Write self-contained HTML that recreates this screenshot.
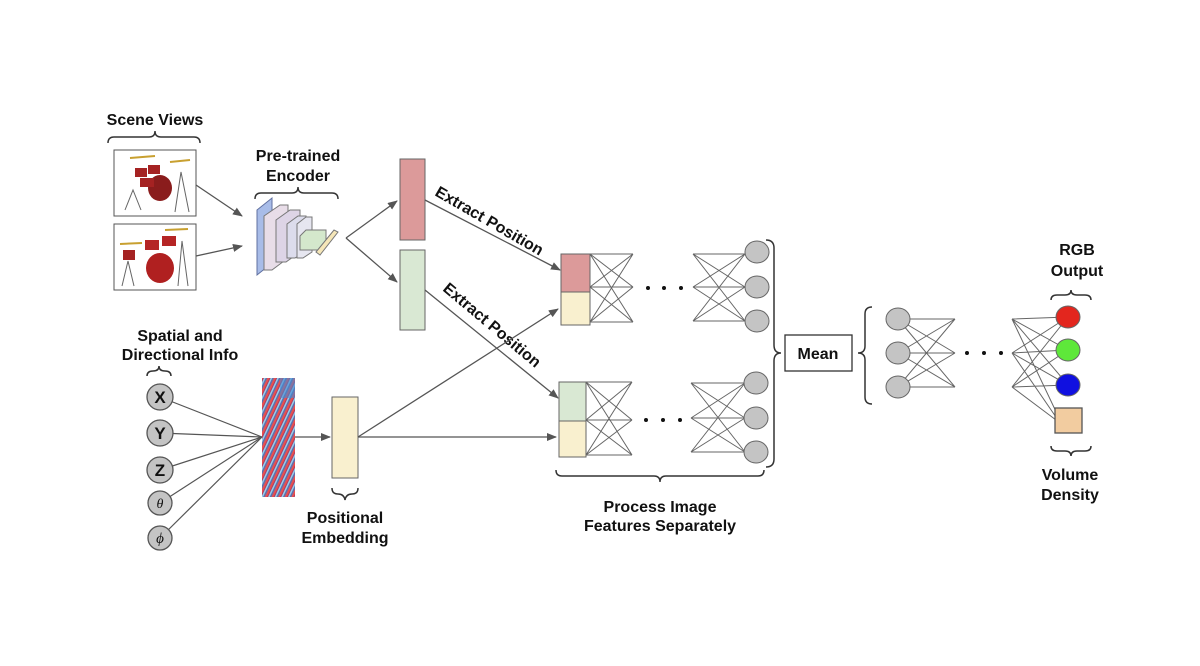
<!DOCTYPE html>
<html><head><meta charset="utf-8"><style>
html,body{margin:0;padding:0;background:#fff;}
svg{display:block}
text{font-family:"Liberation Sans",sans-serif;font-weight:bold;fill:#111;}
</style></head><body>
<svg width="1200" height="666" viewBox="0 0 1200 666" xmlns="http://www.w3.org/2000/svg">
<defs>
<marker id="a" markerWidth="10" markerHeight="8" refX="9" refY="4" orient="auto" markerUnits="userSpaceOnUse"><path d="M0,0 L10,4 L0,8 z" fill="#555"/></marker>
<linearGradient id="sp" x1="0" x2="1" y1="0" y2="0">
<stop offset="0" stop-color="#6a2a5a"/><stop offset="0.5" stop-color="#c04060"/><stop offset="1" stop-color="#3a80c8"/>
</linearGradient>
<pattern id="st" width="6" height="14" patternUnits="userSpaceOnUse" patternTransform="rotate(25)">
<rect width="6" height="14" fill="url(#sp)"/><rect width="2" height="14" fill="#e85050"/><rect x="3" width="1.5" height="14" fill="#8fd0f0"/>
</pattern>
</defs>
<style>.l{stroke:#555;stroke-width:1.3;fill:none}.n{stroke:#666;stroke-width:1;fill:none}.b{stroke:#333;stroke-width:1.5;fill:none}</style>

<text x="155" y="125" font-size="16" text-anchor="middle">Scene Views</text>
<path class="b" d="M108,143 q0,-6 6,-6 h35 q6,0 6,-6 q0,6 6,6 h33 q6,0 6,6"/>
<rect x="114" y="150" width="82" height="66" fill="#fff" stroke="#555"/>
<rect x="114" y="224" width="82" height="66" fill="#fff" stroke="#555"/>
<g>
<ellipse cx="160" cy="188" rx="12" ry="13" fill="#8a1c1c"/><rect x="135" y="168" width="12" height="9" fill="#a52222"/><rect x="148" y="165" width="12" height="9" fill="#a52222"/><rect x="140" y="178" width="14" height="9" fill="#a52222"/>
<line x1="130" y1="158" x2="155" y2="156" stroke="#c8a030" stroke-width="2"/><line x1="170" y1="162" x2="190" y2="160" stroke="#c8a030" stroke-width="2"/>
<path d="M125,210 l8,-20 l8,20 M175,212 l6,-40 l8,40" stroke="#666" fill="none"/>
<ellipse cx="160" cy="268" rx="14" ry="15" fill="#b02020"/><rect x="145" y="240" width="14" height="10" fill="#b52525"/><rect x="162" y="236" width="14" height="10" fill="#b52525"/><rect x="123" y="250" width="12" height="10" fill="#a52222"/>
<line x1="120" y1="244" x2="142" y2="243" stroke="#c8a030" stroke-width="2"/><line x1="165" y1="230" x2="188" y2="229" stroke="#c8a030" stroke-width="2"/>
<path d="M122,286 l6,-25 l6,25 M178,286 l4,-45 l6,45" stroke="#666" fill="none"/>
</g>
<line class="l" x1="196" y1="185" x2="242" y2="216" marker-end="url(#a)"/>
<line class="l" x1="196" y1="256" x2="242" y2="246" marker-end="url(#a)"/>

<text x="298" y="161" font-size="16" text-anchor="middle">Pre-trained</text>
<text x="298" y="181" font-size="16" text-anchor="middle">Encoder</text>
<path class="b" d="M255,199 q0,-6 6,-6 h31 q6,0 6,-6 q0,6 6,6 h28 q6,0 6,6"/>
<polygon points="257,210 272,198 272,263 257,275" fill="#a8bce8" stroke="#6070a0"/>
<polygon points="264,216 280,205 288,205 288,258 272,270 264,270" fill="#e8dde8" stroke="#777"/>
<polygon points="276,220 290,210 300,210 300,252 286,262 276,262" fill="#ddd4e6" stroke="#777"/>
<polygon points="287,224 298,216 306,216 306,252 295,258 287,258" fill="#dcdcec" stroke="#777"/>
<polygon points="297,224 306,217 312,217 312,252 303,258 297,258" fill="#e6e6f0" stroke="#777"/>
<polygon points="300,236 306,230 326,230 326,244 318,250 300,250" fill="#d4e8cc" stroke="#777"/>
<polygon points="316,252 334,230 338,232 320,255" fill="#f5e6b8" stroke="#777"/>
<line class="l" x1="346" y1="238" x2="397" y2="201" marker-end="url(#a)"/>
<line class="l" x1="346" y1="238" x2="397" y2="282" marker-end="url(#a)"/>

<rect x="400" y="159" width="25" height="81" fill="#dc9a9a" stroke="#666"/>
<rect x="400" y="250" width="25" height="80" fill="#d9e8d3" stroke="#666"/>
<line class="l" x1="425" y1="200" x2="560" y2="270" marker-end="url(#a)"/>
<line class="l" x1="425" y1="290" x2="558" y2="398" marker-end="url(#a)"/>
<text font-size="16" transform="translate(434,195) rotate(30)">Extract Position</text>
<text font-size="16" transform="translate(442,290) rotate(40)">Extract Position</text>

<text x="180" y="341" font-size="16" text-anchor="middle">Spatial and</text>
<text x="180" y="360" font-size="16" text-anchor="middle">Directional Info</text>
<path class="b" d="M147,376 q0,-5 6,-5 q6,0 6,-5 q0,5 6,5 q6,0 6,5"/>
<g stroke="#555" stroke-width="1.2">
<line x1="160" y1="397" x2="262" y2="437"/><line x1="160" y1="433" x2="262" y2="437"/><line x1="160" y1="470" x2="262" y2="437"/><line x1="160" y1="503" x2="262" y2="437"/><line x1="160" y1="538" x2="262" y2="437"/>
</g>
<g fill="#c4c4c4" stroke="#555" stroke-width="1.3">
<circle cx="160" cy="397" r="13"/><circle cx="160" cy="433" r="13"/><circle cx="160" cy="470" r="13"/><circle cx="160" cy="503" r="12"/><circle cx="160" cy="538" r="12"/>
</g>
<text x="160" y="403" font-size="17" text-anchor="middle">X</text>
<text x="160" y="439" font-size="17" text-anchor="middle">Y</text>
<text x="160" y="476" font-size="17" text-anchor="middle">Z</text>
<text x="160" y="508" font-size="14" text-anchor="middle" style="font-family:'Liberation Serif',serif;font-style:italic;font-weight:normal">θ</text>
<text x="160" y="543" font-size="15" text-anchor="middle" style="font-family:'Liberation Serif',serif;font-style:italic;font-weight:normal">ϕ</text>
<rect x="262" y="378" width="33" height="119" fill="url(#st)"/>
<rect x="280" y="378" width="15" height="20" fill="#4a8ad0" opacity="0.6"/>
<line class="l" x1="295" y1="437" x2="330" y2="437" marker-end="url(#a)"/>
<rect x="332" y="397" width="26" height="81" fill="#f9f0cf" stroke="#666"/>
<path class="b" d="M332,488 q0,6 6,6 q6,0 7,6 q1,-6 7,-6 q6,0 6,-6"/>
<text x="345" y="523" font-size="16" text-anchor="middle">Positional</text>
<text x="345" y="543" font-size="16" text-anchor="middle">Embedding</text>
<line class="l" x1="358" y1="437" x2="558" y2="309" marker-end="url(#a)"/>
<line class="l" x1="358" y1="437" x2="556" y2="437" marker-end="url(#a)"/>

<g class="n">
<path d="M590,254 H633 M590,287 H633 M590,322 H633 M590,254 L633,287 M590,254 L633,322 M590,287 L633,254 M590,287 L633,322 M590,322 L633,254 M590,322 L633,287"/>
<path d="M693,254 H745 M693,287 H745 M693,321 H745 M693,254 L745,287 M693,254 L745,321 M693,287 L745,254 M693,287 L745,321 M693,321 L745,254 M693,321 L745,287"/>
<path d="M586,382 H632 M586,420 H632 M586,455 H632 M586,382 L632,420 M586,382 L632,455 M586,420 L632,382 M586,420 L632,455 M586,455 L632,382 M586,455 L632,420"/>
<path d="M691,383 H745 M691,418 H745 M691,452 H745 M691,383 L745,418 M691,383 L745,452 M691,418 L745,383 M691,418 L745,452 M691,452 L745,383 M691,452 L745,418"/>
</g>
<rect x="561" y="254" width="29" height="38" fill="#dc9a9a" stroke="#666"/>
<rect x="561" y="292" width="29" height="33" fill="#f9f0cf" stroke="#666"/>
<rect x="559" y="382" width="27" height="39" fill="#d9e8d3" stroke="#666"/>
<rect x="559" y="421" width="27" height="36" fill="#f9f0cf" stroke="#666"/>
<g fill="#111"><circle cx="648" cy="288" r="2"/><circle cx="664" cy="288" r="2"/><circle cx="681" cy="288" r="2"/>
<circle cx="646" cy="420" r="2"/><circle cx="663" cy="420" r="2"/><circle cx="680" cy="420" r="2"/></g>
<g fill="#c4c4c4" stroke="#666">
<ellipse cx="757" cy="252" rx="12" ry="11"/><ellipse cx="757" cy="287" rx="12" ry="11"/><ellipse cx="757" cy="321" rx="12" ry="11"/>
<ellipse cx="756" cy="383" rx="12" ry="11"/><ellipse cx="756" cy="418" rx="12" ry="11"/><ellipse cx="756" cy="452" rx="12" ry="11"/>
</g>
<path class="b" d="M766,240 q8,0 8,8 v97 q0,8 7,8 q-7,0 -7,8 v98 q0,8 -8,8"/>
<path class="b" d="M556,470 q0,6 6,6 h92 q6,0 6,6 q0,-6 6,-6 h92 q6,0 6,-6"/>
<text x="660" y="512" font-size="16" text-anchor="middle">Process Image</text>
<text x="660" y="531" font-size="16" text-anchor="middle">Features Separately</text>

<rect x="785" y="335" width="67" height="36" fill="#fff" stroke="#333" stroke-width="1.3"/>
<text x="818" y="359" font-size="16" text-anchor="middle">Mean</text>
<path class="b" d="M872,307 q-7,0 -7,7 v32 q0,7 -7,7 q7,0 7,7 v37 q0,7 7,7"/>

<g class="n">
<path d="M898,319 H955 M898,353 H955 M898,387 H955 M898,319 L955,353 M898,319 L955,387 M898,353 L955,319 M898,353 L955,387 M898,387 L955,319 M898,387 L955,353"/>
<path d="M1012,319 L1068,317 M1012,319 L1068,350 M1012,319 L1068,385 M1012,319 L1060,420 M1012,353 L1068,317 M1012,353 L1068,350 M1012,353 L1068,385 M1012,353 L1058,420 M1012,387 L1068,317 M1012,387 L1068,350 M1012,387 L1068,385 M1012,387 L1056,420"/>
</g>
<g fill="#c4c4c4" stroke="#666">
<ellipse cx="898" cy="319" rx="12" ry="11"/><ellipse cx="898" cy="353" rx="12" ry="11"/><ellipse cx="898" cy="387" rx="12" ry="11"/>
</g>
<g fill="#111"><circle cx="967" cy="353" r="2"/><circle cx="984" cy="353" r="2"/><circle cx="1001" cy="353" r="2"/></g>
<ellipse cx="1068" cy="317" rx="12" ry="11" fill="#e3261e" stroke="#666"/>
<ellipse cx="1068" cy="350" rx="12" ry="11" fill="#5ee83a" stroke="#666"/>
<ellipse cx="1068" cy="385" rx="12" ry="11" fill="#1010e0" stroke="#666"/>
<rect x="1055" y="408" width="27" height="25" fill="#f2cca0" stroke="#555" stroke-width="1.3"/>
<text x="1077" y="255" font-size="16" text-anchor="middle">RGB</text>
<text x="1077" y="276" font-size="16" text-anchor="middle">Output</text>
<path class="b" d="M1051,300 q0,-5 6,-5 h8 q6,0 6,-5 q0,5 6,5 h8 q6,0 6,5"/>
<path class="b" d="M1051,446 q0,5 6,5 h8 q6,0 6,5 q0,-5 6,-5 h8 q6,0 6,-5"/>
<text x="1070" y="480" font-size="16" text-anchor="middle">Volume</text>
<text x="1070" y="500" font-size="16" text-anchor="middle">Density</text>
</svg>
</body></html>
